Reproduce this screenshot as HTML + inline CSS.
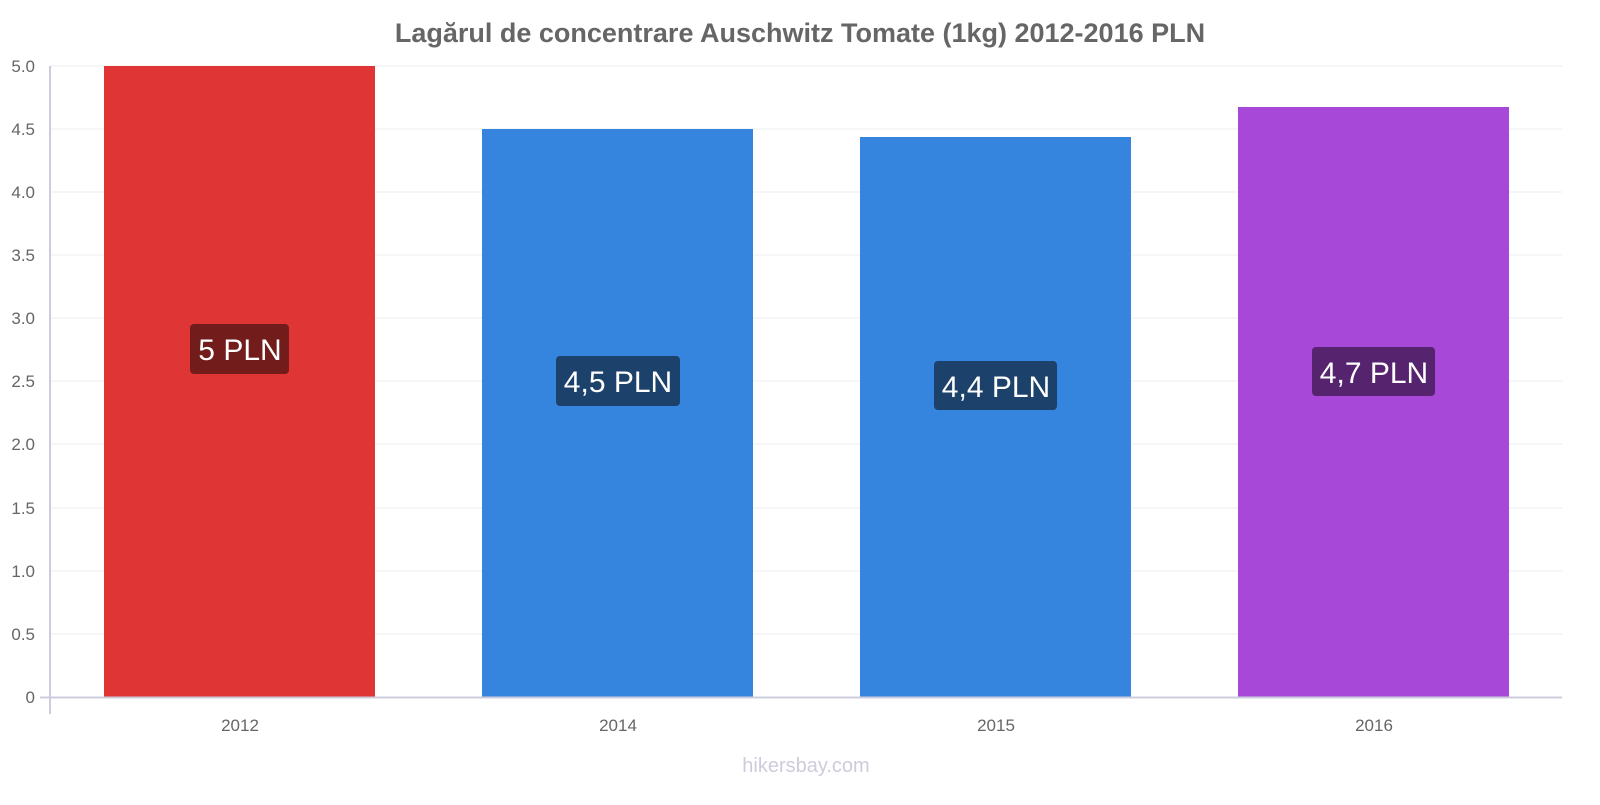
<!DOCTYPE html>
<html><head><meta charset="utf-8"><style>
body{margin:0;background:#fff;font-family:"Liberation Sans",sans-serif}
</style></head><body>
<svg width="1600" height="800" xmlns="http://www.w3.org/2000/svg" font-family="Liberation Sans, sans-serif">
<rect width="1600" height="800" fill="#fff"/>
<text x="800" y="42" text-anchor="middle" font-size="27" font-weight="bold" fill="#666">Lagărul de concentrare Auschwitz Tomate (1kg) 2012-2016 PLN</text>
<g stroke="#eee" stroke-width="1">
<line x1="50" x2="1562" y1="66" y2="66"/><line x1="50" x2="1562" y1="129" y2="129"/>
<line x1="50" x2="1562" y1="192" y2="192"/><line x1="50" x2="1562" y1="255" y2="255"/>
<line x1="50" x2="1562" y1="318" y2="318"/><line x1="50" x2="1562" y1="381" y2="381"/>
<line x1="50" x2="1562" y1="444" y2="444"/><line x1="50" x2="1562" y1="508" y2="508"/>
<line x1="50" x2="1562" y1="571" y2="571"/><line x1="50" x2="1562" y1="634" y2="634"/>
</g>
<g font-size="17" fill="#666" text-anchor="end">
<text x="35" y="72">5.0</text><text x="35" y="135">4.5</text><text x="35" y="198">4.0</text>
<text x="35" y="261">3.5</text><text x="35" y="324">3.0</text><text x="35" y="387">2.5</text>
<text x="35" y="450">2.0</text><text x="35" y="514">1.5</text><text x="35" y="577">1.0</text>
<text x="35" y="640">0.5</text><text x="35" y="703">0</text>
</g>
<rect x="104" y="66" width="271" height="631" fill="#e03535"/>
<rect x="482" y="129" width="271" height="568" fill="#3584de"/>
<rect x="860" y="137" width="271" height="560" fill="#3584de"/>
<rect x="1238" y="107" width="271" height="590" fill="#a848d8"/>
<line x1="50" x2="50" y1="66" y2="714" stroke="#ccd" stroke-width="2"/>
<line x1="40" x2="1562" y1="697.5" y2="697.5" stroke="#ccd" stroke-width="2"/>
<g font-size="17" fill="#666" text-anchor="middle">
<text x="240" y="731">2012</text><text x="618" y="731">2014</text>
<text x="996" y="731">2015</text><text x="1374" y="731">2016</text>
</g>
<rect x="190" y="324" width="99" height="50" rx="4" fill="#721c1c"/>
<rect x="556" y="356" width="124" height="50" rx="4" fill="#1c416b"/>
<rect x="934" y="361" width="123" height="49" rx="4" fill="#1c416b"/>
<rect x="1312" y="347" width="123" height="49" rx="4" fill="#56246e"/>
<g font-size="30" fill="#fff" text-anchor="middle">
<text x="240" y="360">5 PLN</text><text x="618" y="392">4,5 PLN</text>
<text x="996" y="397">4,4 PLN</text><text x="1374" y="383">4,7 PLN</text>
</g>
<text x="806" y="772" text-anchor="middle" font-size="20" fill="#ccd">hikersbay.com</text>
</svg>
</body></html>
